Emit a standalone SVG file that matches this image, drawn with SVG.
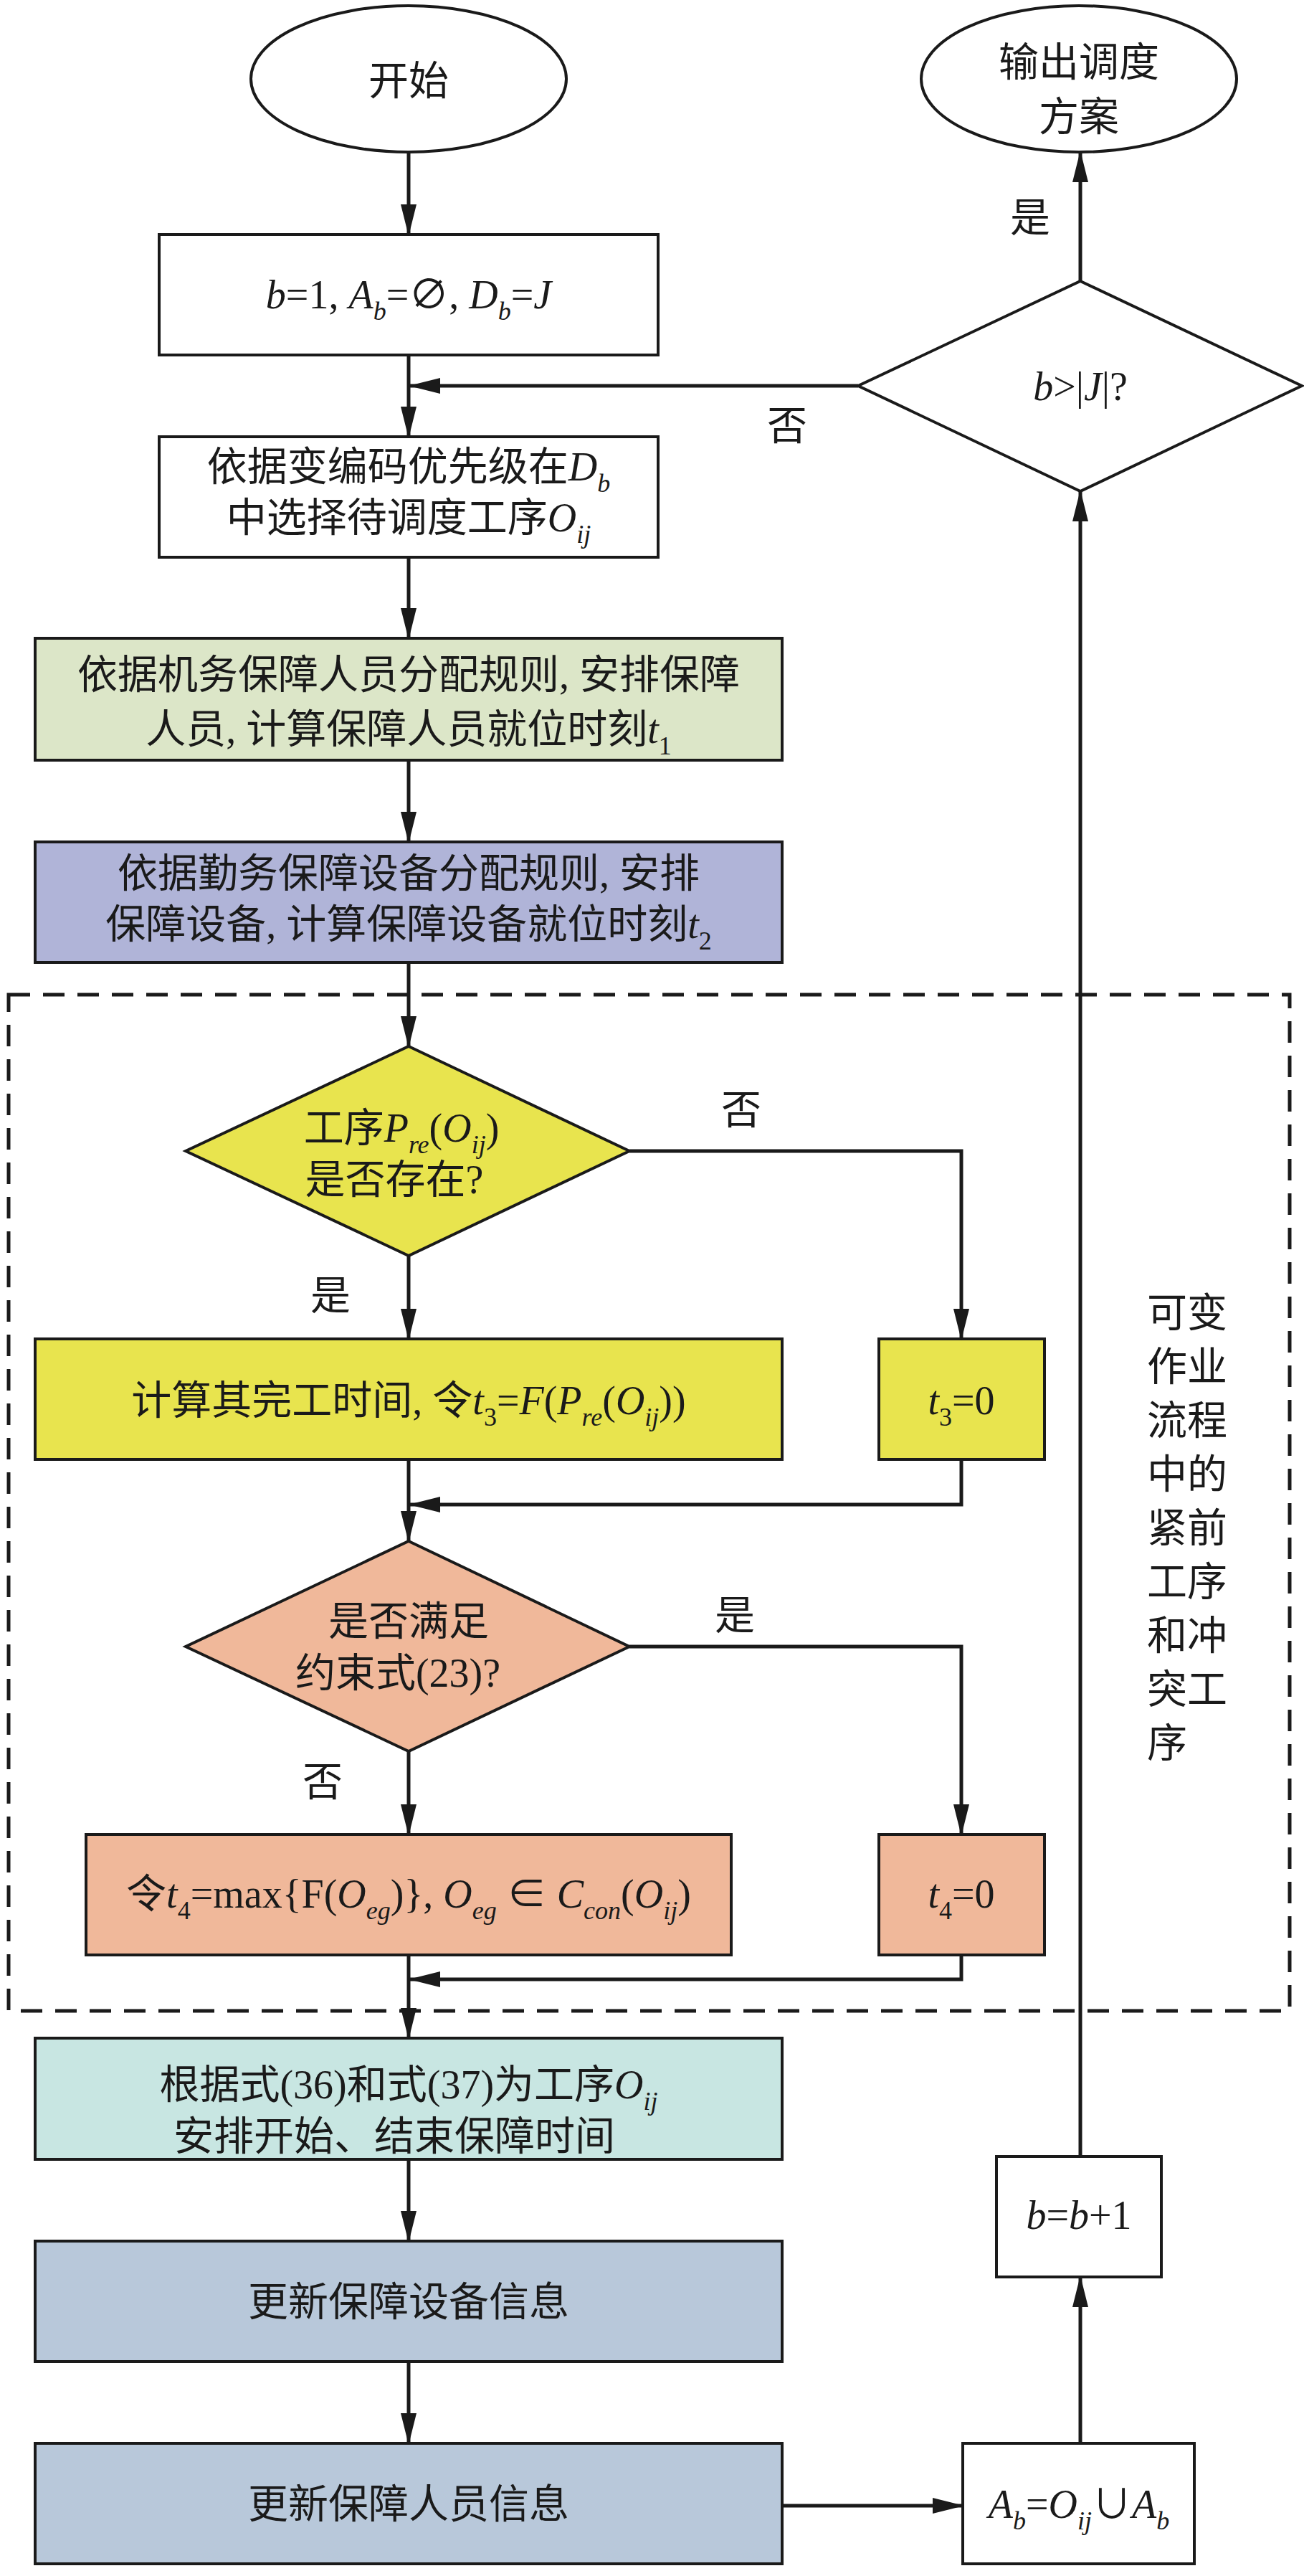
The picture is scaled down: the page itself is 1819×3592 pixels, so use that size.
<svg xmlns="http://www.w3.org/2000/svg" width="1819" height="3592" viewBox="0 0 1819 3592">
<defs>
<marker id="ah" markerUnits="userSpaceOnUse" markerWidth="44" markerHeight="24" refX="42" refY="11" orient="auto"><path d="M0,0 L44,11 L0,22 z" fill="#1a1a1a"/></marker>
<style>
.b{stroke:#1a1a1a;stroke-width:4}
.c{fill:none;stroke:#1a1a1a;stroke-width:5}
text{font-family:"Liberation Serif","Noto Sans CJK SC",serif;font-size:56px;fill:#1a1a1a;text-anchor:middle}
.i{font-style:italic}
.s{font-size:36px}
</style>
</defs>
<rect width="1819" height="3592" fill="#fff"/>
<g id="start"><ellipse cx="570" cy="110" rx="220" ry="102" fill="#fff" class="b"/><text x="570" y="132">开始</text></g>
<g id="end"><ellipse cx="1505" cy="110" rx="220" ry="102" fill="#fff" class="b"/><text x="1505" y="106">输出调度</text><text x="1505" y="182">方案</text></g>
<g id="init"><rect x="222" y="327" width="696" height="168" fill="#fff" class="b"/><text x="570" y="430"><tspan class="i">b</tspan>=1, <tspan class="i">A</tspan><tspan class="i s" dy="16">b</tspan><tspan dy="-16">=∅, </tspan><tspan class="i">D</tspan><tspan class="i s" dy="16">b</tspan><tspan dy="-16">=</tspan><tspan class="i">J</tspan></text></g>
<g id="select"><rect x="222" y="609" width="696" height="168" fill="#fff" class="b"/><text x="570" y="670">依据变编码优先级在<tspan class="i">D</tspan><tspan class="i s" dy="16">b</tspan></text><text x="570" y="741">中选择待调度工序<tspan class="i">O</tspan><tspan class="i s" dy="16">ij</tspan></text></g>
<g id="staff"><rect x="49" y="890" width="1042" height="170" fill="#dce6c8" class="b"/><text x="570" y="960">依据机务保障人员分配规则, 安排保障</text><text x="570" y="1036">人员, 计算保障人员就位时刻<tspan class="i">t</tspan><tspan class="s" dy="16">1</tspan></text></g>
<g id="equip"><rect x="49" y="1174" width="1042" height="168" fill="#b0b4d8" class="b"/><text x="570" y="1237">依据勤务保障设备分配规则, 安排</text><text x="570" y="1308">保障设备, 计算保障设备就位时刻<tspan class="i">t</tspan><tspan class="s" dy="16">2</tspan></text></g>
<g id="dashbox"><rect x="12" y="1387" width="1787" height="1417" fill="none" stroke="#1a1a1a" stroke-width="5" stroke-dasharray="30 18"/>
<text x="1656" y="1850">可变</text><text x="1656" y="1925">作业</text><text x="1656" y="2000">流程</text><text x="1656" y="2075">中的</text><text x="1656" y="2150">紧前</text><text x="1656" y="2225">工序</text><text x="1656" y="2300">和冲</text><text x="1656" y="2375">突工</text><text x="1656" y="2450" text-anchor="start" x2="0"> </text><text x="1628" y="2450">序</text></g>
<g id="d1"><polygon points="570,1459 878,1605 570,1751 259,1605" fill="#e8e44e" class="b"/><text x="560" y="1592">工序<tspan class="i">P</tspan><tspan class="i s" dy="16">re</tspan><tspan dy="-16">(</tspan><tspan class="i">O</tspan><tspan class="i s" dy="16">ij</tspan><tspan dy="-16">)</tspan></text><text x="550" y="1664">是否存在?</text></g>
<g id="t3calc"><rect x="49" y="1867" width="1042" height="168" fill="#e8e44e" class="b"/><text x="570" y="1972">计算其完工时间, 令<tspan class="i">t</tspan><tspan class="s" dy="16">3</tspan><tspan dy="-16">=</tspan><tspan class="i">F</tspan>(<tspan class="i">P</tspan><tspan class="i s" dy="16">re</tspan><tspan dy="-16">(</tspan><tspan class="i">O</tspan><tspan class="i s" dy="16">ij</tspan><tspan dy="-16">))</tspan></text></g>
<g id="t3zero"><rect x="1226" y="1867" width="231" height="168" fill="#e8e44e" class="b"/><text x="1341" y="1972"><tspan class="i">t</tspan><tspan class="s" dy="16">3</tspan><tspan dy="-16">=0</tspan></text></g>
<g id="d2"><polygon points="570,2149 878,2296 570,2442 259,2296" fill="#f0b89a" class="b"/><text x="570" y="2280">是否满足</text><text x="555" y="2352">约束式(23)?</text></g>
<g id="t4calc"><rect x="120" y="2558" width="900" height="168" fill="#f0b89a" class="b"/><text x="570" y="2660">令<tspan class="i">t</tspan><tspan class="s" dy="16">4</tspan><tspan dy="-16">=max{F(</tspan><tspan class="i">O</tspan><tspan class="i s" dy="16">eg</tspan><tspan dy="-16">)}, </tspan><tspan class="i">O</tspan><tspan class="i s" dy="16">eg</tspan><tspan dy="-16"> ∈ </tspan><tspan class="i">C</tspan><tspan class="i s" dy="16">con</tspan><tspan dy="-16">(</tspan><tspan class="i">O</tspan><tspan class="i s" dy="16">ij</tspan><tspan dy="-16">)</tspan></text></g>
<g id="t4zero"><rect x="1226" y="2558" width="231" height="168" fill="#f0b89a" class="b"/><text x="1341" y="2660"><tspan class="i">t</tspan><tspan class="s" dy="16">4</tspan><tspan dy="-16">=0</tspan></text></g>
<g id="schedule"><rect x="49" y="2842" width="1042" height="169" fill="#c8e6e2" class="b"/><text x="570" y="2926">根据式(36)和式(37)为工序<tspan class="i">O</tspan><tspan class="i s" dy="16">ij</tspan></text><text x="550" y="2998">安排开始、结束保障时间</text></g>
<g id="upequip"><rect x="49" y="3125" width="1042" height="168" fill="#b8c8da" class="b"/><text x="570" y="3229">更新保障设备信息</text></g>
<g id="upstaff"><rect x="49" y="3407" width="1042" height="168" fill="#b8c8da" class="b"/><text x="570" y="3511">更新保障人员信息</text></g>
<g id="inc"><rect x="1390" y="3007" width="230" height="168" fill="#fff" class="b"/><text x="1505" y="3108"><tspan class="i">b</tspan>=<tspan class="i">b</tspan>+1</text></g>
<g id="union"><rect x="1343" y="3407" width="323" height="168" fill="#fff" class="b"/><text x="1505" y="3511"><tspan class="i">A</tspan><tspan class="i s" dy="16">b</tspan><tspan dy="-16">=</tspan><tspan class="i">O</tspan><tspan class="i s" dy="16">ij</tspan><tspan dy="-16">∪</tspan><tspan class="i">A</tspan><tspan class="i s" dy="16">b</tspan></text></g>
<g id="check"><polygon points="1507,392 1816,538 1507,685 1197,538" fill="#fff" class="b"/><text x="1507" y="558"><tspan class="i">b</tspan>&gt;|<tspan class="i">J</tspan>|?</text></g>
<g id="connectors">
<path class="c" d="M570,212 V327" marker-end="url(#ah)"/>
<path class="c" d="M570,495 V609" marker-end="url(#ah)"/>
<path class="c" d="M1197,538 H572" marker-end="url(#ah)"/>
<path class="c" d="M1507,392 V212" marker-end="url(#ah)"/>
<path class="c" d="M570,777 V890" marker-end="url(#ah)"/>
<path class="c" d="M570,1060 V1174" marker-end="url(#ah)"/>
<path class="c" d="M570,1342 V1459" marker-end="url(#ah)"/>
<path class="c" d="M570,1751 V1867" marker-end="url(#ah)"/>
<path class="c" d="M878,1605 H1341 V1867" marker-end="url(#ah)"/>
<path class="c" d="M570,2035 V2149" marker-end="url(#ah)"/>
<path class="c" d="M1341,2035 V2098 H572" marker-end="url(#ah)"/>
<path class="c" d="M570,2442 V2558" marker-end="url(#ah)"/>
<path class="c" d="M878,2296 H1341 V2558" marker-end="url(#ah)"/>
<path class="c" d="M570,2726 V2842" marker-end="url(#ah)"/>
<path class="c" d="M1341,2726 V2760 H572" marker-end="url(#ah)"/>
<path class="c" d="M570,3011 V3125" marker-end="url(#ah)"/>
<path class="c" d="M570,3293 V3407" marker-end="url(#ah)"/>
<path class="c" d="M1091,3494 H1343" marker-end="url(#ah)"/>
<path class="c" d="M1507,3407 V3175" marker-end="url(#ah)"/>
<path class="c" d="M1507,3007 V685" marker-end="url(#ah)"/>
<text x="1098" y="613">否</text>
<text x="1437" y="323">是</text>
<text x="1034" y="1567">否</text>
<text x="461" y="1826">是</text>
<text x="1025" y="2272">是</text>
<text x="450" y="2504">否</text>
</g>
</svg>
